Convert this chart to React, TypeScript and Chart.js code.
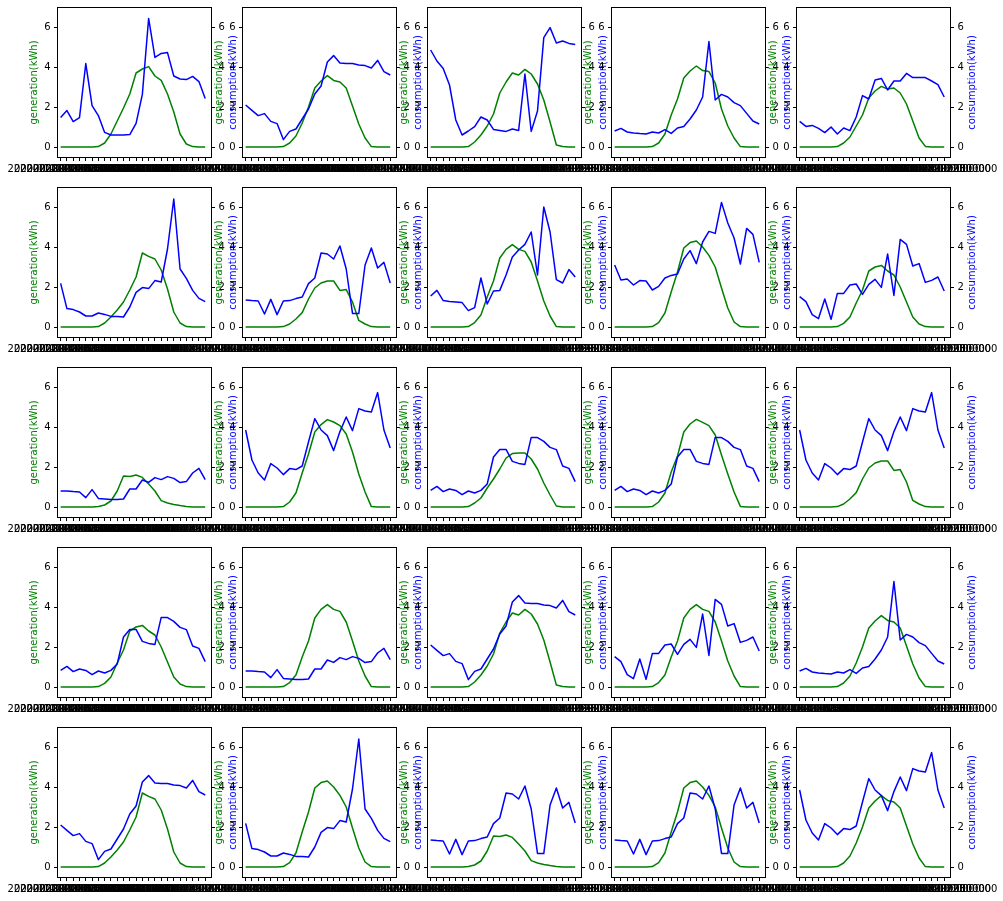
import React, { useEffect, useRef } from "react";
import { Chart, registerables } from "chart.js";

Chart.register(...registerables);

const hours = ["00", "01", "02", "03", "04", "05", "06", "07", "08", "09", "10", "11", "12", "13", "14", "15", "16", "17", "18", "19", "20", "21", "22", "23"];
const tickLabels = hours.map((h) => `2020-01-01 ${h}:00:00`);
const yTicks = [0, 2, 4, 6];

const gen1 = [0, 0, 0, 0, 0, 0, 0.02, 0.2, 0.65, 1.3, 1.95, 2.65, 3.7, 3.9, 4.02, 3.55, 3.33, 2.65, 1.75, 0.65, 0.15, 0.02, 0, 0];
const gen2 = [0, 0, 0, 0, 0, 0, 0.02, 0.2, 0.55, 1.2, 2.0, 2.95, 3.3, 3.57, 3.33, 3.25, 2.95, 2.05, 1.15, 0.45, 0.02, 0, 0, 0];
const gen3 = [0, 0, 0, 0, 0, 0, 0.02, 0.25, 0.6, 1.05, 1.65, 2.7, 3.25, 3.7, 3.6, 3.88, 3.65, 3.15, 2.35, 1.25, 0.1, 0.02, 0, 0];
const gen4 = [0, 0, 0, 0, 0, 0, 0.02, 0.2, 0.65, 1.6, 2.4, 3.45, 3.8, 4.05, 3.82, 3.77, 3.2, 1.9, 1.05, 0.45, 0.02, 0, 0, 0];
const gen5 = [0, 0, 0, 0, 0, 0, 0.02, 0.2, 0.5, 1.05, 1.6, 2.45, 2.8, 3.03, 2.9, 2.95, 2.7, 2.15, 1.3, 0.45, 0.03, 0, 0, 0];
const gen6 = [0, 0, 0, 0, 0, 0, 0.02, 0.2, 0.5, 0.85, 1.25, 1.85, 2.5, 3.7, 3.53, 3.4, 2.85, 1.9, 0.75, 0.2, 0.02, 0, 0, 0];
const gen7 = [0, 0, 0, 0, 0, 0, 0.02, 0.15, 0.4, 0.72, 1.4, 1.95, 2.2, 2.3, 2.3, 1.83, 1.87, 1.25, 0.33, 0.15, 0.02, 0, 0, 0];
const gen8 = [0, 0, 0, 0, 0, 0, 0.02, 0.22, 0.6, 1.5, 2.3, 3.45, 3.88, 4.12, 3.88, 3.78, 3.25, 2.3, 1.3, 0.55, 0.02, 0, 0, 0];
const gen9 = [0, 0, 0, 0, 0, 0, 0.02, 0.22, 0.7, 1.75, 2.75, 3.95, 4.22, 4.3, 4.0, 3.58, 3.0, 1.95, 0.95, 0.25, 0.02, 0, 0, 0];
const gen10 = [0, 0, 0, 0, 0, 0, 0.02, 0.18, 0.5, 1.2, 1.85, 2.8, 3.0, 3.08, 2.8, 2.6, 2.0, 1.25, 0.5, 0.15, 0.02, 0, 0, 0];
const gen11 = [0, 0, 0, 0, 0, 0, 0.02, 0.1, 0.3, 0.8, 1.55, 1.53, 1.6, 1.48, 1.15, 0.8, 0.32, 0.2, 0.13, 0.07, 0.02, 0, 0, 0];
const gen12 = [0, 0, 0, 0, 0, 0, 0.02, 0.25, 0.7, 1.7, 2.65, 3.75, 4.12, 4.37, 4.25, 4.07, 3.65, 2.75, 1.65, 0.75, 0.02, 0, 0, 0];
const gen13 = [0, 0, 0, 0, 0, 0, 0.02, 0.2, 0.45, 0.95, 1.4, 1.9, 2.45, 2.67, 2.7, 2.7, 2.4, 1.9, 1.2, 0.6, 0.05, 0, 0, 0];
const gen14 = [0, 0, 0, 0, 0, 0, 0.02, 0.25, 0.7, 1.75, 2.55, 3.75, 4.15, 4.38, 4.23, 4.07, 3.6, 2.6, 1.65, 0.75, 0.03, 0, 0, 0];

const con1 = [1.47, 1.82, 1.27, 1.47, 4.17, 2.07, 1.57, 0.73, 0.6, 0.6, 0.6, 0.62, 1.18, 2.63, 6.43, 4.48, 4.68, 4.72, 3.55, 3.4, 3.37, 3.53, 3.27, 2.43];
const con2 = [2.1, 1.83, 1.57, 1.67, 1.28, 1.17, 0.37, 0.78, 0.9, 1.4, 1.9, 2.65, 3.05, 4.25, 4.57, 4.2, 4.17, 4.17, 4.1, 4.07, 3.95, 4.33, 3.77, 3.6];
const con3 = [4.85, 4.3, 3.93, 3.1, 1.35, 0.6, 0.8, 1.02, 1.5, 1.35, 0.88, 0.83, 0.78, 0.9, 0.83, 3.65, 0.78, 1.8, 5.47, 5.97, 5.2, 5.3, 5.18, 5.13];
const con4 = [0.8, 0.93, 0.75, 0.7, 0.67, 0.65, 0.75, 0.7, 0.87, 0.68, 0.95, 1.03, 1.4, 1.85, 2.5, 5.27, 2.35, 2.63, 2.5, 2.22, 2.07, 1.68, 1.3, 1.15];
const con5 = [1.28, 1.03, 1.08, 0.93, 0.72, 1.0, 0.65, 0.95, 0.82, 1.5, 2.57, 2.4, 3.35, 3.43, 2.85, 3.3, 3.3, 3.68, 3.47, 3.47, 3.47, 3.3, 3.12, 2.5];
const con6 = [2.18, 0.92, 0.87, 0.75, 0.55, 0.55, 0.7, 0.63, 0.53, 0.52, 0.5, 1.0, 1.73, 1.97, 1.92, 2.32, 2.25, 3.9, 6.4, 2.9, 2.43, 1.83, 1.43, 1.27];
const con7 = [1.35, 1.32, 1.3, 0.65, 1.38, 0.62, 1.3, 1.32, 1.42, 1.5, 2.17, 2.45, 3.7, 3.65, 3.4, 4.05, 2.9, 0.68, 0.67, 3.1, 3.95, 2.95, 3.23, 2.2];
const con8 = [1.55, 1.83, 1.32, 1.28, 1.25, 1.22, 0.82, 0.97, 2.45, 1.15, 1.8, 1.83, 2.6, 3.5, 3.85, 4.13, 4.75, 2.6, 6.0, 4.75, 2.37, 2.2, 2.87, 2.5];
const con9 = [3.1, 2.35, 2.4, 2.1, 2.32, 2.3, 1.85, 2.03, 2.45, 2.58, 2.65, 3.4, 3.82, 3.17, 4.25, 4.78, 4.68, 6.23, 5.2, 4.45, 3.15, 4.93, 4.63, 3.23];
const con10 = [1.52, 1.27, 0.62, 0.42, 1.4, 0.38, 1.68, 1.68, 2.1, 2.15, 1.63, 2.13, 2.38, 1.98, 3.65, 1.58, 4.38, 4.13, 3.05, 3.17, 2.23, 2.33, 2.5, 1.8];
const con11 = [0.8, 0.8, 0.77, 0.75, 0.47, 0.87, 0.43, 0.4, 0.37, 0.38, 0.4, 0.9, 0.9, 1.35, 1.23, 1.47, 1.37, 1.52, 1.43, 1.22, 1.27, 1.7, 1.93, 1.37];
const con12 = [3.85, 2.35, 1.7, 1.35, 2.17, 1.95, 1.62, 1.92, 1.87, 2.05, 3.25, 4.42, 3.85, 3.57, 2.82, 3.77, 4.5, 3.82, 4.92, 4.8, 4.75, 5.72, 3.85, 2.95];
const con13 = [0.83, 1.03, 0.77, 0.9, 0.83, 0.62, 0.8, 0.7, 0.83, 1.15, 2.5, 2.87, 2.88, 2.28, 2.18, 2.13, 3.48, 3.47, 3.28, 2.98, 2.87, 2.05, 1.93, 1.27];

// one entry per subplot, row by row
const panelGeneration = [
  gen1, gen2, gen3, gen4, gen5,
  gen6, gen7, gen8, gen9, gen10,
  gen11, gen12, gen13, gen14, gen7,
  gen10, gen8, gen3, gen8, gen2,
  gen6, gen9, gen11, gen9, gen2,
];
const panelConsumption = [
  con1, con2, con3, con4, con5,
  con6, con7, con8, con9, con10,
  con11, con12, con13, con13, con12,
  con13, con11, con2, con10, con4,
  con2, con6, con7, con7, con12,
];

const columnLefts = [0, 185, 370, 554, 739];
const rowPitch = 180;
const canvasWidth = 269;
const canvasHeight = 180;
const fontFamily = '"DejaVu Sans"';
const green = "#008000";
const blue = "#0000ff";

// frame on all four sides and the right axis title, which Chart.js would rotate the other way
const framePlugin = {
  id: "frame",
  afterDraw(chart: any) {
    const { ctx, chartArea } = chart;
    ctx.save();
    ctx.strokeStyle = "#000";
    ctx.lineWidth = 1;
    ctx.strokeRect(chartArea.left, chartArea.top, chartArea.right - chartArea.left, chartArea.bottom - chartArea.top);
    ctx.translate(chartArea.right + 22, (chartArea.top + chartArea.bottom) / 2);
    ctx.rotate(-Math.PI / 2);
    ctx.font = `10px ${fontFamily}`;
    ctx.fillStyle = blue;
    ctx.textAlign = "center";
    ctx.textBaseline = "middle";
    ctx.fillText("consumption(kWh)", 0, 0);
    ctx.restore();
  },
};

function yAxis(position: "left" | "right") {
  return {
    type: "linear",
    position,
    min: -0.525,
    max: 6.975,
    afterBuildTicks: (scale: any) => {
      scale.ticks = yTicks.map((value) => ({ value }));
    },
    afterFit: (scale: any) => {
      scale.width = 30;
      scale.paddingTop = 0;
      scale.paddingBottom = 0;
    },
    border: { display: false },
    grid: { drawOnChartArea: false, tickLength: 3.5, tickColor: "#000", tickWidth: 1 },
    ticks: { color: "#000", padding: 3.5, font: { family: fontFamily, size: 10 } },
    title: {
      display: position === "left",
      text: "generation(kWh)",
      color: green,
      padding: { top: 1, bottom: 0 },
      font: { family: fontFamily, size: 10 },
    },
  };
}

function Panel({ index }: { index: number }) {
  const canvasRef = useRef<HTMLCanvasElement>(null);

  useEffect(() => {
    if (!canvasRef.current) return;
    const chart = new Chart(canvasRef.current, {
      type: "line",
      data: {
        datasets: [
          {
            label: "generation",
            data: panelGeneration[index].map((y, x) => ({ x, y })),
            borderColor: green,
            borderWidth: 1.5,
            borderJoinStyle: "round",
            pointRadius: 0,
            tension: 0,
            yAxisID: "y",
            order: 2,
          },
          {
            label: "consumption",
            data: panelConsumption[index].map((y, x) => ({ x, y })),
            borderColor: blue,
            borderWidth: 1.5,
            borderJoinStyle: "round",
            pointRadius: 0,
            tension: 0,
            yAxisID: "y1",
            order: 1,
          },
        ],
      },
      options: {
        animation: false,
        responsive: false,
        devicePixelRatio: 1,
        layout: { padding: { left: 27.5, right: 27.5, top: 7.5, bottom: 0 } },
        plugins: { legend: { display: false }, tooltip: { enabled: false } },
        scales: {
          x: {
            type: "linear",
            min: -0.5,
            max: 24,
            afterBuildTicks: (scale: any) => {
              scale.ticks = tickLabels.map((_, value) => ({ value }));
            },
            afterFit: (scale: any) => {
              scale.height = 22.5;
              scale.paddingLeft = 0;
              scale.paddingRight = 0;
            },
            border: { display: false },
            grid: { drawOnChartArea: false, tickLength: 3.5, tickColor: "#000", tickWidth: 1 },
            ticks: {
              autoSkip: false,
              minRotation: 0,
              maxRotation: 0,
              color: "#000",
              padding: 2,
              font: { family: fontFamily, size: 10 },
              callback: (value: any) => tickLabels[value],
            },
          },
          y: yAxis("left"),
          y1: yAxis("right"),
        },
      } as any,
      plugins: [framePlugin],
    });
    return () => chart.destroy();
  }, [index]);

  return (
    <canvas
      ref={canvasRef}
      width={canvasWidth}
      height={canvasHeight}
      style={{
        position: "absolute",
        left: columnLefts[index % 5],
        top: Math.floor(index / 5) * rowPitch,
        width: canvasWidth,
        height: canvasHeight,
      }}
    />
  );
}

export default function App() {
  return (
    <div style={{ position: "fixed", left: 0, top: 0, width: 1003, height: 901, background: "#fff", overflow: "hidden" }}>
      {panelGeneration.map((_, i) => (
        <Panel key={i} index={i} />
      ))}
    </div>
  );
}
